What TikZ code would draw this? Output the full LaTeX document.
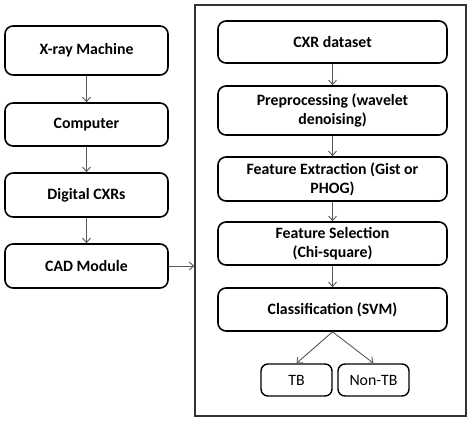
\documentclass[tikz,border=0pt]{standalone}
\usepackage{fontspec}
\setmainfont{Carlito}
\usetikzlibrary{arrows.meta}
\tikzset{
  box/.style={draw=black, line width=1.6pt, rounded corners=8pt, align=center,
    font=\fontsize{15.8}{19}\selectfont\bfseries, inner sep=0pt},
  small/.style={draw=black, line width=1.4pt, rounded corners=7pt, align=center,
    font=\fontsize{15.8}{18}\selectfont, inner sep=0pt},
  conn/.style={draw=black!65, line width=0.9pt, -{Straight Barb[length=4.5pt,width=8pt]}},
  frame/.style={draw=black!80, line width=1.3pt}
}
\begin{document}
\begin{tikzpicture}[x=1pt,y=-1pt]
\useasboundingbox (0,0) rectangle (474,424);
\fill[white] (0,0) rectangle (474,424);
% outer frame
\node[frame, minimum width=271pt, minimum height=411pt, inner sep=0pt] (frame) at (330.5,210.5) {};
% left column
\node[box, minimum width=163pt, minimum height=49pt] (xray) at (86.5,50.5) {X-ray Machine};
\node[box, minimum width=163pt, minimum height=43pt] (comp) at (86.5,124.5) {Computer};
\node[box, minimum width=163pt, minimum height=44pt] (dig) at (86.5,195) {Digital CXRs};
\node[box, minimum width=163pt, minimum height=44pt] (cad) at (86.5,266) {CAD Module};
% right column
\node[box, minimum width=229pt, minimum height=42pt] (cxr) at (332.5,42) {CXR dataset};
\node[box, minimum width=229pt, minimum height=49pt] (pre) at (332.5,110.5) {Preprocessing (wavelet\\denoising)};
\node[box, minimum width=229pt, minimum height=44pt] (fext) at (332.5,179) {Feature Extraction (Gist or\\PHOG)};
\node[box, minimum width=229pt, minimum height=43pt] (fsel) at (332.5,243.5) {Feature Selection\\(Chi-square)};
\node[box, minimum width=229pt, minimum height=43pt] (cls) at (332.5,309.5) {Classification (SVM)};
\node[small, minimum width=71pt, minimum height=32pt] (tb) at (296.5,380) {TB};
\node[small, minimum width=71pt, minimum height=32pt] (ntb) at (373.5,380) {Non-TB};
% connectors
\draw[conn] (xray) -- (comp);
\draw[conn] (comp) -- (dig);
\draw[conn] (dig) -- (cad);
\draw[conn] (cad.east) -- (frame.west |- cad.east);
\draw[conn] (cxr) -- (pre);
\draw[conn] (pre) -- (fext);
\draw[conn] (fext) -- (fsel);
\draw[conn] (fsel) -- (cls);
\draw[conn] (cls.south) -- (tb.north);
\draw[conn] (cls.south) -- (ntb.north);
\end{tikzpicture}
\end{document}
